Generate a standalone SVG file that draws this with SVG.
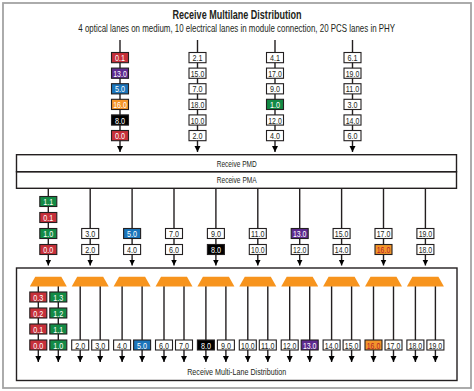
<svg xmlns="http://www.w3.org/2000/svg" width="474" height="391" viewBox="0 0 474 391">
<style>
text{font-family:"Liberation Sans",Arial,sans-serif;text-anchor:middle}
.ttl{font-size:12px;font-weight:bold;fill:#231f20}
.sub{font-size:10.5px;fill:#231f20}
.lbl{font-size:9.5px;fill:#231f20}
.bt{font-size:9.6px;fill:#231f20}
.w{fill:#fff}
.rt{fill:#b3202a}
.bx{fill:#fff;stroke:#231f20;stroke-width:1.1}
.red{fill:#c6303a}
.grn{fill:#138a45}
.pur{fill:#5e2b8f}
.blu{fill:#1b75bb}
.org{fill:#f3952a}
.blk{fill:#000}
.cn line{stroke:#231f20;stroke-width:1.4;marker-end:url(#ah)}
.trap{fill:#f7941d}
.frame{fill:none;stroke:#231f20;stroke-width:1.4}
</style>
<defs>
<marker id="ah" viewBox="0 0 10 10" refX="10" refY="5" markerWidth="6" markerHeight="7" markerUnits="userSpaceOnUse" orient="auto"><path d="M0,0 L10,5 L0,10 Z" fill="#000"/></marker>
</defs>
<rect x="0" y="0" width="474" height="391" fill="#fff"/>
<rect x="3" y="3" width="468" height="385" fill="none" stroke="#a3a3a3" stroke-width="1.8"/>
<g id="title"><text class="ttl" x="237" y="18.5" textLength="129" lengthAdjust="spacingAndGlyphs">Receive Multilane Distribution</text></g>
<g id="subtitle"><text class="sub" transform="translate(236.7,32) scale(0.74,1)" x="0" y="0" textLength="428" lengthAdjust="spacingAndGlyphs">4 optical lanes on medium, 10 electrical lanes in module connection, 20 PCS lanes in PHY</text></g>

<g id="connectors" class="cn">
<line x1="120" y1="40" x2="120" y2="152"/>
<line x1="197.5" y1="40" x2="197.5" y2="152"/>
<line x1="275" y1="40" x2="275" y2="152"/>
<line x1="352.5" y1="40" x2="352.5" y2="152"/>
<line x1="48.3" y1="188.3" x2="48.3" y2="265.5"/>
<line x1="90.2" y1="188.3" x2="90.2" y2="265.5"/>
<line x1="132.1" y1="188.3" x2="132.1" y2="265.5"/>
<line x1="174" y1="188.3" x2="174" y2="265.5"/>
<line x1="215.9" y1="188.3" x2="215.9" y2="265.5"/>
<line x1="257.8" y1="188.3" x2="257.8" y2="265.5"/>
<line x1="299.7" y1="188.3" x2="299.7" y2="265.5"/>
<line x1="341.6" y1="188.3" x2="341.6" y2="265.5"/>
<line x1="383.5" y1="188.3" x2="383.5" y2="265.5"/>
<line x1="425.4" y1="188.3" x2="425.4" y2="265.5"/>
<line x1="38.3" y1="286" x2="38.3" y2="362"/>
<line x1="58.3" y1="286" x2="58.3" y2="362"/>
<line x1="80.2" y1="286" x2="80.2" y2="362"/>
<line x1="100.2" y1="286" x2="100.2" y2="362"/>
<line x1="122.1" y1="286" x2="122.1" y2="362"/>
<line x1="142.1" y1="286" x2="142.1" y2="362"/>
<line x1="164" y1="286" x2="164" y2="362"/>
<line x1="184" y1="286" x2="184" y2="362"/>
<line x1="205.9" y1="286" x2="205.9" y2="362"/>
<line x1="225.9" y1="286" x2="225.9" y2="362"/>
<line x1="247.8" y1="286" x2="247.8" y2="362"/>
<line x1="267.8" y1="286" x2="267.8" y2="362"/>
<line x1="289.7" y1="286" x2="289.7" y2="362"/>
<line x1="309.7" y1="286" x2="309.7" y2="362"/>
<line x1="331.6" y1="286" x2="331.6" y2="362"/>
<line x1="351.6" y1="286" x2="351.6" y2="362"/>
<line x1="373.5" y1="286" x2="373.5" y2="362"/>
<line x1="393.5" y1="286" x2="393.5" y2="362"/>
<line x1="415.4" y1="286" x2="415.4" y2="362"/>
<line x1="435.4" y1="286" x2="435.4" y2="362"/>
</g>

<!-- top stacks -->
<g id="top-lane-0">
<rect class="bx red" x="111.5" y="52.5" width="17" height="10.2"/><text class="bt w" x="120" y="61.2" textLength="10" lengthAdjust="spacingAndGlyphs">0.1</text>
<rect class="bx pur" x="111.5" y="68.1" width="17" height="10.2"/><text class="bt w" x="120" y="76.8" textLength="13.5" lengthAdjust="spacingAndGlyphs">13.0</text>
<rect class="bx blu" x="111.5" y="83.7" width="17" height="10.2"/><text class="bt w" x="120" y="92.4" textLength="10" lengthAdjust="spacingAndGlyphs">5.0</text>
<rect class="bx org" x="111.5" y="99.3" width="17" height="10.2"/><text class="bt w" x="120" y="108" textLength="13.5" lengthAdjust="spacingAndGlyphs">16.0</text>
<rect class="bx blk" x="111.5" y="114.9" width="17" height="10.2"/><text class="bt w" x="120" y="123.6" textLength="10" lengthAdjust="spacingAndGlyphs">8.0</text>
<rect class="bx red" x="111.5" y="130.5" width="17" height="10.2"/><text class="bt w" x="120" y="139.2" textLength="10" lengthAdjust="spacingAndGlyphs">0.0</text>
</g>
<g id="top-lane-1">
<rect class="bx" x="189" y="52.5" width="17" height="10.2"/><text class="bt" x="197.5" y="61.2" textLength="10" lengthAdjust="spacingAndGlyphs">2.1</text>
<rect class="bx" x="189" y="68.1" width="17" height="10.2"/><text class="bt" x="197.5" y="76.8" textLength="13.5" lengthAdjust="spacingAndGlyphs">15.0</text>
<rect class="bx" x="189" y="83.7" width="17" height="10.2"/><text class="bt" x="197.5" y="92.4" textLength="10" lengthAdjust="spacingAndGlyphs">7.0</text>
<rect class="bx" x="189" y="99.3" width="17" height="10.2"/><text class="bt" x="197.5" y="108" textLength="13.5" lengthAdjust="spacingAndGlyphs">18.0</text>
<rect class="bx" x="189" y="114.9" width="17" height="10.2"/><text class="bt" x="197.5" y="123.6" textLength="13.5" lengthAdjust="spacingAndGlyphs">10.0</text>
<rect class="bx" x="189" y="130.5" width="17" height="10.2"/><text class="bt" x="197.5" y="139.2" textLength="10" lengthAdjust="spacingAndGlyphs">2.0</text>
</g>
<g id="top-lane-2">
<rect class="bx" x="266.5" y="52.5" width="17" height="10.2"/><text class="bt" x="275" y="61.2" textLength="10" lengthAdjust="spacingAndGlyphs">4.1</text>
<rect class="bx" x="266.5" y="68.1" width="17" height="10.2"/><text class="bt" x="275" y="76.8" textLength="13.5" lengthAdjust="spacingAndGlyphs">17.0</text>
<rect class="bx" x="266.5" y="83.7" width="17" height="10.2"/><text class="bt" x="275" y="92.4" textLength="10" lengthAdjust="spacingAndGlyphs">9.0</text>
<rect class="bx grn" x="266.5" y="99.3" width="17" height="10.2"/><text class="bt w" x="275" y="108" textLength="10" lengthAdjust="spacingAndGlyphs">1.0</text>
<rect class="bx" x="266.5" y="114.9" width="17" height="10.2"/><text class="bt" x="275" y="123.6" textLength="13.5" lengthAdjust="spacingAndGlyphs">12.0</text>
<rect class="bx" x="266.5" y="130.5" width="17" height="10.2"/><text class="bt" x="275" y="139.2" textLength="10" lengthAdjust="spacingAndGlyphs">4.0</text>
</g>
<g id="top-lane-3">
<rect class="bx" x="344" y="52.5" width="17" height="10.2"/><text class="bt" x="352.5" y="61.2" textLength="10" lengthAdjust="spacingAndGlyphs">6.1</text>
<rect class="bx" x="344" y="68.1" width="17" height="10.2"/><text class="bt" x="352.5" y="76.8" textLength="13.5" lengthAdjust="spacingAndGlyphs">19.0</text>
<rect class="bx" x="344" y="83.7" width="17" height="10.2"/><text class="bt" x="352.5" y="92.4" textLength="13.5" lengthAdjust="spacingAndGlyphs">11.0</text>
<rect class="bx" x="344" y="99.3" width="17" height="10.2"/><text class="bt" x="352.5" y="108" textLength="10" lengthAdjust="spacingAndGlyphs">3.0</text>
<rect class="bx" x="344" y="114.9" width="17" height="10.2"/><text class="bt" x="352.5" y="123.6" textLength="13.5" lengthAdjust="spacingAndGlyphs">14.0</text>
<rect class="bx" x="344" y="130.5" width="17" height="10.2"/><text class="bt" x="352.5" y="139.2" textLength="10" lengthAdjust="spacingAndGlyphs">6.0</text>
</g>

<g id="pmd"><rect class="frame" x="16.5" y="154.7" width="440" height="17" fill="#fff"/><text class="lbl" x="236.7" y="166.8" textLength="40" lengthAdjust="spacingAndGlyphs">Receive PMD</text></g>
<g id="pma"><rect class="frame" x="16.5" y="171.7" width="440" height="16.6" fill="#fff"/><text class="lbl" x="236.7" y="183.4" textLength="40" lengthAdjust="spacingAndGlyphs">Receive PMA</text></g>

<!-- middle stacks -->
<g id="mid-lane-0">
<rect class="bx grn" x="39.8" y="196.5" width="17" height="10"/><text class="bt w" x="48.3" y="205" textLength="10" lengthAdjust="spacingAndGlyphs">1.1</text>
<rect class="bx red" x="39.8" y="212.5" width="17" height="10"/><text class="bt w" x="48.3" y="221" textLength="10" lengthAdjust="spacingAndGlyphs">0.1</text>
<rect class="bx grn" x="39.8" y="228.5" width="17" height="10"/><text class="bt w" x="48.3" y="237" textLength="10" lengthAdjust="spacingAndGlyphs">1.0</text>
<rect class="bx red" x="39.8" y="244.5" width="17" height="10"/><text class="bt w" x="48.3" y="253" textLength="10" lengthAdjust="spacingAndGlyphs">0.0</text>
</g>
<g id="mid-lane-1">
<rect class="bx" x="81.7" y="228.5" width="17" height="10"/><text class="bt" x="90.2" y="237" textLength="10" lengthAdjust="spacingAndGlyphs">3.0</text>
<rect class="bx" x="81.7" y="244.5" width="17" height="10"/><text class="bt" x="90.2" y="253" textLength="10" lengthAdjust="spacingAndGlyphs">2.0</text>
</g>
<g id="mid-lane-2">
<rect class="bx blu" x="123.6" y="228.5" width="17" height="10"/><text class="bt w" x="132.1" y="237" textLength="10" lengthAdjust="spacingAndGlyphs">5.0</text>
<rect class="bx" x="123.6" y="244.5" width="17" height="10"/><text class="bt" x="132.1" y="253" textLength="10" lengthAdjust="spacingAndGlyphs">4.0</text>
</g>
<g id="mid-lane-3">
<rect class="bx" x="165.5" y="228.5" width="17" height="10"/><text class="bt" x="174" y="237" textLength="10" lengthAdjust="spacingAndGlyphs">7.0</text>
<rect class="bx" x="165.5" y="244.5" width="17" height="10"/><text class="bt" x="174" y="253" textLength="10" lengthAdjust="spacingAndGlyphs">6.0</text>
</g>
<g id="mid-lane-4">
<rect class="bx" x="207.4" y="228.5" width="17" height="10"/><text class="bt" x="215.9" y="237" textLength="10" lengthAdjust="spacingAndGlyphs">9.0</text>
<rect class="bx blk" x="207.4" y="244.5" width="17" height="10"/><text class="bt w" x="215.9" y="253" textLength="10" lengthAdjust="spacingAndGlyphs">8.0</text>
</g>
<g id="mid-lane-5">
<rect class="bx" x="249.3" y="228.5" width="17" height="10"/><text class="bt" x="257.8" y="237" textLength="13.5" lengthAdjust="spacingAndGlyphs">11.0</text>
<rect class="bx" x="249.3" y="244.5" width="17" height="10"/><text class="bt" x="257.8" y="253" textLength="13.5" lengthAdjust="spacingAndGlyphs">10.0</text>
</g>
<g id="mid-lane-6">
<rect class="bx pur" x="291.2" y="228.5" width="17" height="10"/><text class="bt w" x="299.7" y="237" textLength="13.5" lengthAdjust="spacingAndGlyphs">13.0</text>
<rect class="bx" x="291.2" y="244.5" width="17" height="10"/><text class="bt" x="299.7" y="253" textLength="13.5" lengthAdjust="spacingAndGlyphs">12.0</text>
</g>
<g id="mid-lane-7">
<rect class="bx" x="333.1" y="228.5" width="17" height="10"/><text class="bt" x="341.6" y="237" textLength="13.5" lengthAdjust="spacingAndGlyphs">15.0</text>
<rect class="bx" x="333.1" y="244.5" width="17" height="10"/><text class="bt" x="341.6" y="253" textLength="13.5" lengthAdjust="spacingAndGlyphs">14.0</text>
</g>
<g id="mid-lane-8">
<rect class="bx" x="375" y="228.5" width="17" height="10"/><text class="bt" x="383.5" y="237" textLength="13.5" lengthAdjust="spacingAndGlyphs">17.0</text>
<rect class="bx org" x="375" y="244.5" width="17" height="10"/><text class="bt rt" x="383.5" y="253" textLength="13.5" lengthAdjust="spacingAndGlyphs">16.0</text>
</g>
<g id="mid-lane-9">
<rect class="bx" x="416.9" y="228.5" width="17" height="10"/><text class="bt" x="425.4" y="237" textLength="13.5" lengthAdjust="spacingAndGlyphs">19.0</text>
<rect class="bx" x="416.9" y="244.5" width="17" height="10"/><text class="bt" x="425.4" y="253" textLength="13.5" lengthAdjust="spacingAndGlyphs">18.0</text>
</g>

<g id="distribution">
<rect class="frame" x="16.5" y="268" width="440.5" height="112.5" stroke-width="1.5"/>
<text class="lbl" x="236.7" y="375" textLength="99" lengthAdjust="spacingAndGlyphs">Receive Multi-Lane Distribution</text>
</g>

<g id="muxes">
<path class="trap" d="M29.8,286.5 L35.3,276.8 L61.3,276.8 L66.8,286.5 Z"/>
<path class="trap" d="M71.7,286.5 L77.2,276.8 L103.2,276.8 L108.7,286.5 Z"/>
<path class="trap" d="M113.6,286.5 L119.1,276.8 L145.1,276.8 L150.6,286.5 Z"/>
<path class="trap" d="M155.5,286.5 L161,276.8 L187,276.8 L192.5,286.5 Z"/>
<path class="trap" d="M197.4,286.5 L202.9,276.8 L228.9,276.8 L234.4,286.5 Z"/>
<path class="trap" d="M239.3,286.5 L244.8,276.8 L270.8,276.8 L276.3,286.5 Z"/>
<path class="trap" d="M281.2,286.5 L286.7,276.8 L312.7,276.8 L318.2,286.5 Z"/>
<path class="trap" d="M323.1,286.5 L328.6,276.8 L354.6,276.8 L360.1,286.5 Z"/>
<path class="trap" d="M365,286.5 L370.5,276.8 L396.5,276.8 L402,286.5 Z"/>
<path class="trap" d="M406.9,286.5 L412.4,276.8 L438.4,276.8 L443.9,286.5 Z"/>
</g>

<!-- bottom lanes -->
<g id="pcs-0">
<rect class="bx red" x="29.8" y="292" width="17" height="10"/><text class="bt w" x="38.3" y="300.5" textLength="10" lengthAdjust="spacingAndGlyphs">0.3</text>
<rect class="bx red" x="29.8" y="308" width="17" height="10"/><text class="bt w" x="38.3" y="316.5" textLength="10" lengthAdjust="spacingAndGlyphs">0.2</text>
<rect class="bx red" x="29.8" y="324" width="17" height="10"/><text class="bt w" x="38.3" y="332.5" textLength="10" lengthAdjust="spacingAndGlyphs">0.1</text>
<rect class="bx red" x="29.8" y="340" width="17" height="10"/><text class="bt w" x="38.3" y="348.5" textLength="10" lengthAdjust="spacingAndGlyphs">0.0</text>
</g>
<g id="pcs-1">
<rect class="bx grn" x="49.8" y="292" width="17" height="10"/><text class="bt w" x="58.3" y="300.5" textLength="10" lengthAdjust="spacingAndGlyphs">1.3</text>
<rect class="bx grn" x="49.8" y="308" width="17" height="10"/><text class="bt w" x="58.3" y="316.5" textLength="10" lengthAdjust="spacingAndGlyphs">1.2</text>
<rect class="bx grn" x="49.8" y="324" width="17" height="10"/><text class="bt w" x="58.3" y="332.5" textLength="10" lengthAdjust="spacingAndGlyphs">1.1</text>
<rect class="bx grn" x="49.8" y="340" width="17" height="10"/><text class="bt w" x="58.3" y="348.5" textLength="10" lengthAdjust="spacingAndGlyphs">1.0</text>
</g>
<g id="pcs-2"><rect class="bx" x="71.7" y="340" width="17" height="10"/><text class="bt" x="80.2" y="348.5" textLength="10" lengthAdjust="spacingAndGlyphs">2.0</text></g>
<g id="pcs-3"><rect class="bx" x="91.7" y="340" width="17" height="10"/><text class="bt" x="100.2" y="348.5" textLength="10" lengthAdjust="spacingAndGlyphs">3.0</text></g>
<g id="pcs-4"><rect class="bx" x="113.6" y="340" width="17" height="10"/><text class="bt" x="122.1" y="348.5" textLength="10" lengthAdjust="spacingAndGlyphs">4.0</text></g>
<g id="pcs-5"><rect class="bx blu" x="133.6" y="340" width="17" height="10"/><text class="bt w" x="142.1" y="348.5" textLength="10" lengthAdjust="spacingAndGlyphs">5.0</text></g>
<g id="pcs-6"><rect class="bx" x="155.5" y="340" width="17" height="10"/><text class="bt" x="164" y="348.5" textLength="10" lengthAdjust="spacingAndGlyphs">6.0</text></g>
<g id="pcs-7"><rect class="bx" x="175.5" y="340" width="17" height="10"/><text class="bt" x="184" y="348.5" textLength="10" lengthAdjust="spacingAndGlyphs">7.0</text></g>
<g id="pcs-8"><rect class="bx blk" x="197.4" y="340" width="17" height="10"/><text class="bt w" x="205.9" y="348.5" textLength="10" lengthAdjust="spacingAndGlyphs">8.0</text></g>
<g id="pcs-9"><rect class="bx" x="217.4" y="340" width="17" height="10"/><text class="bt" x="225.9" y="348.5" textLength="10" lengthAdjust="spacingAndGlyphs">9.0</text></g>
<g id="pcs-10"><rect class="bx" x="239.3" y="340" width="17" height="10"/><text class="bt" x="247.8" y="348.5" textLength="13.5" lengthAdjust="spacingAndGlyphs">10.0</text></g>
<g id="pcs-11"><rect class="bx" x="259.3" y="340" width="17" height="10"/><text class="bt" x="267.8" y="348.5" textLength="13.5" lengthAdjust="spacingAndGlyphs">11.0</text></g>
<g id="pcs-12"><rect class="bx" x="281.2" y="340" width="17" height="10"/><text class="bt" x="289.7" y="348.5" textLength="13.5" lengthAdjust="spacingAndGlyphs">12.0</text></g>
<g id="pcs-13"><rect class="bx pur" x="301.2" y="340" width="17" height="10"/><text class="bt w" x="309.7" y="348.5" textLength="13.5" lengthAdjust="spacingAndGlyphs">13.0</text></g>
<g id="pcs-14"><rect class="bx" x="323.1" y="340" width="17" height="10"/><text class="bt" x="331.6" y="348.5" textLength="13.5" lengthAdjust="spacingAndGlyphs">14.0</text></g>
<g id="pcs-15"><rect class="bx" x="343.1" y="340" width="17" height="10"/><text class="bt" x="351.6" y="348.5" textLength="13.5" lengthAdjust="spacingAndGlyphs">15.0</text></g>
<g id="pcs-16"><rect class="bx org" x="365" y="340" width="17" height="10"/><text class="bt rt" x="373.5" y="348.5" textLength="13.5" lengthAdjust="spacingAndGlyphs">16.0</text></g>
<g id="pcs-17"><rect class="bx" x="385" y="340" width="17" height="10"/><text class="bt" x="393.5" y="348.5" textLength="13.5" lengthAdjust="spacingAndGlyphs">17.0</text></g>
<g id="pcs-18"><rect class="bx" x="406.9" y="340" width="17" height="10"/><text class="bt" x="415.4" y="348.5" textLength="13.5" lengthAdjust="spacingAndGlyphs">18.0</text></g>
<g id="pcs-19"><rect class="bx" x="426.9" y="340" width="17" height="10"/><text class="bt" x="435.4" y="348.5" textLength="13.5" lengthAdjust="spacingAndGlyphs">19.0</text></g>
</svg>
